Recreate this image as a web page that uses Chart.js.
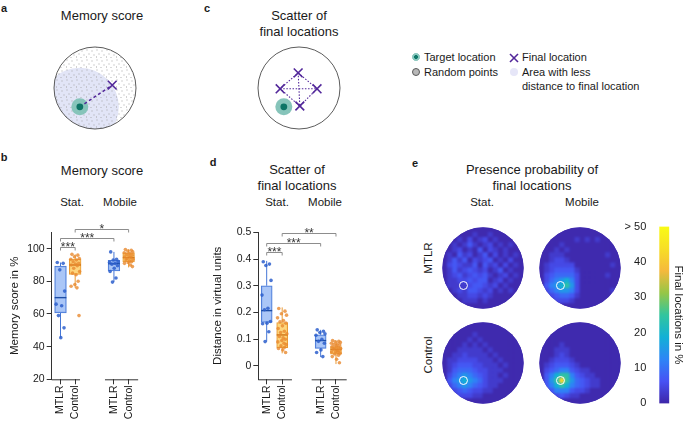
<!DOCTYPE html>
<html>
<head>
<meta charset="utf-8">
<script src="https://cdn.jsdelivr.net/npm/chart.js@4.4.1/dist/chart.umd.min.js"></script>
<style>
  body { margin: 0; width: 685px; height: 421px; background: #fff; position: relative; overflow: hidden;
         font-family: 'Liberation Sans', Arial, sans-serif; color: #1a1a1a; }
  canvas { position: absolute; }
  .t { position: absolute; transform: translate(-50%, -50%); white-space: nowrap; }
  .title { font-size: 13px; }
  .sub { font-size: 11.5px; }
  .letter { font-weight: bold; font-size: 11px; }
  .rot { transform: translate(-50%, -50%) rotate(-90deg); }
  .leg { position: absolute; font-size: 11px; white-space: nowrap; transform: translateY(-50%); }
  .ic { position: absolute; width: 8px; height: 8px; border-radius: 50%; transform: translate(-50%, -50%); box-sizing: border-box; }
</style>
</head>
<body>

<!-- panel letters -->
<div class="t letter" style="left:4px;top:8px">a</div>
<div class="t letter" style="left:207px;top:8px">c</div>
<div class="t letter" style="left:4px;top:157px">b</div>
<div class="t letter" style="left:213px;top:162px">d</div>
<div class="t letter" style="left:415px;top:163px">e</div>

<!-- titles -->
<div class="t title" style="left:102px;top:15px">Memory score</div>
<div class="t title" style="left:299px;top:15px">Scatter of</div>
<div class="t title" style="left:299px;top:31px">final locations</div>

<div class="t title" style="left:102px;top:170px">Memory score</div>
<div class="t sub" style="left:72px;top:202px">Stat.</div>
<div class="t sub" style="left:120px;top:202px">Mobile</div>

<div class="t title" style="left:297px;top:169px">Scatter of</div>
<div class="t title" style="left:297px;top:185px">final locations</div>
<div class="t sub" style="left:277px;top:202px">Stat.</div>
<div class="t sub" style="left:325px;top:202px">Mobile</div>

<div class="t title" style="left:532px;top:169px">Presence probability of</div>
<div class="t title" style="left:532px;top:185px">final locations</div>
<div class="t sub" style="left:482px;top:202px">Stat.</div>
<div class="t sub" style="left:582px;top:202px">Mobile</div>
<div class="t sub rot" style="left:428px;top:258px">MTLR</div>
<div class="t sub rot" style="left:428px;top:355px">Control</div>

<!-- legend of the schematics -->
<div class="ic" style="left:416px;top:57px;background:radial-gradient(circle, #0e7869 0 1.8px, #8cc8bf 2.2px 4px, transparent 4.2px)"></div>
<div class="ic" style="left:416px;top:72px;background:#b8b8b8;border:1px solid #5a5a5a"></div>
<svg style="position:absolute;left:508.5px;top:52.5px" width="10" height="10">
  <line x1="1" y1="1" x2="9" y2="9" stroke="#52279a" stroke-width="1.6"/>
  <line x1="9" y1="1" x2="1" y2="9" stroke="#52279a" stroke-width="1.6"/>
</svg>
<div class="ic" style="left:513.5px;top:72px;background:#e6e6f8"></div>
<div class="leg" style="left:424px;top:57px">Target location</div>
<div class="leg" style="left:424px;top:72px">Random points</div>
<div class="leg" style="left:522px;top:57px">Final location</div>
<div class="leg" style="left:522px;top:72px">Area with less</div>
<div class="leg" style="left:522px;top:86px">distance to final location</div>

<script>
// ---------- data ----------

const groups = ['MTLR', 'Control', 'MTLR', 'Control']

// b: memory score in %
const memTicks = [20, 40, 60, 80, 100]
const memMtlrStat = [91.5, 91, 87, 74, 66, 65, 59, 51.5, 45.5]
const memCtrlStat = [96.5, 96, 95, 94, 93.5, 93, 92, 91, 90.5, 90, 89.5, 88, 86, 85, 84, 80, 78, 77, 76, 59]
const memMtlrMob = [98, 93.5, 93, 92, 91.5, 91, 90.5, 89.5, 88, 86, 82, 79.5]
const memCtrlMob = [99.5, 99, 98.5, 98, 97.5, 97, 96.5, 96, 95.5, 95, 94.5, 94, 93.5, 93, 92.5, 92, 91.5, 91, 90, 89]
// [lower whisker, q1, median, q3, upper whisker]
const memBoxes = [
  [45.5, 60.7, 70, 89.3, 91.5],
  [76, 84.2, 90, 93.6, 96.5],
  [79.5, 86.3, 90.8, 92.8, 98],
  [88.5, 91.8, 94.5, 97.5, 99.6]
]
const memSig = [[0, 1, 100.9, '***'], [0, 2, 106.5, '***'], [1, 3, 112.3, '*']]

// d: distance in virtual units
const distTicks = [0, 0.1, 0.2, 0.3, 0.4, 0.5]
const distMtlrStat = [0.39, 0.381, 0.376, 0.32, 0.265, 0.216, 0.21, 0.166, 0.16, 0.158, 0.128, 0.091]
const distCtrlStat = [0.215, 0.205, 0.195, 0.19, 0.18, 0.17, 0.165, 0.16, 0.15, 0.14, 0.13, 0.125, 0.12, 0.11, 0.105, 0.1, 0.095, 0.09, 0.085, 0.08, 0.075, 0.07, 0.065, 0.06, 0.05]
const distMtlrMob = [0.135, 0.13, 0.125, 0.12, 0.115, 0.1, 0.092, 0.085, 0.06, 0.05, 0.035]
const distCtrlMob = [0.095, 0.092, 0.09, 0.088, 0.085, 0.082, 0.08, 0.078, 0.075, 0.072, 0.07, 0.067, 0.065, 0.062, 0.06, 0.058, 0.055, 0.052, 0.05, 0.047, 0.045, 0.04, 0.035, 0.025, 0.012]
const distBoxes = [
  [0.091, 0.163, 0.207, 0.300, 0.393],
  [0.047, 0.068, 0.116, 0.162, 0.219],
  [0.033, 0.066, 0.095, 0.116, 0.135],
  [0.007, 0.044, 0.062, 0.072, 0.095]
]
const distSig = [[0, 1, 0.427, '***'], [0, 2, 0.461, '***'], [1, 3, 0.496, '**']]

// e: presence probability, 16x16 cells per arena, one char per cell
const heatLevels = { '0': 0.5, '1': 3, '2': 5, '3': 7, '4': 9, '5': 12, '6': 15, '7': 19, '8': 24, '9': 30, 'a': 36, 'b': 42, 'c': 50 }
const heatMtlrStat = [
  '0000000000000000',
  '0000001001000000',
  '0001020120100000',
  '0010131012010100',
  '0012010302101000',
  '0103120130201010',
  '0131302123010200',
  '0232113031202010',
  '0131232120130100',
  '0123123231012010',
  '0112232330120100',
  '0111123321201000',
  '0012133212010100',
  '0001122121000000',
  '0000111010000000',
  '0000000000000000'
]
const heatMtlrMob = [
  '0000000000000000',
  '0000000000000000',
  '0000000101010000',
  '0000100000000000',
  '0001010000000000',
  '0011100000000100',
  '0012210000000000',
  '0122222000000010',
  '0123333100000000',
  '0234444200000100',
  '0245675200000000',
  '0356786200000000',
  '0245665200000010',
  '0123443100000000',
  '0012221000000000',
  '0000000000000000'
]
const heatCtrlStat = [
  '0000000000000000',
  '0000000000000000',
  '0000001000000000',
  '0000010100000000',
  '0000101010000000',
  '0001111101000000',
  '0011211110100000',
  '0112222111010000',
  '0123332211101000',
  '0134443221110000',
  '0245654321101000',
  '0356765421110000',
  '0245654321100000',
  '0123432211000000',
  '0012221100000000',
  '0000000000000000'
]
const heatCtrlMob = [
  '0000000000000000',
  '0000000000000000',
  '0000000000000000',
  '0000000000000000',
  '0000100000000000',
  '0001110000000000',
  '0001210000000000',
  '0012221000000000',
  '0123332100000000',
  '0234553211000000',
  '0357885321100000',
  '0368b86432110000',
  '0357875432110000',
  '0235553221000000',
  '0012321100000000',
  '0000000000000000'
]
const heatTarget = [-0.48, -0.43]
const cbTicks = [0, 10, 20, 30, 40, 50]

// a, c: schematic arenas (arena radius = 1)
const aTarget = [-0.37, -0.46]
const aFinal = [0.42, 0.07]
const cTarget = [-0.37, -0.46]
const cFinals = [[-0.02, 0.37], [-0.46, -0.02], [0.44, -0.02], [0.02, -0.44]]

// ---------- styles ----------

Chart.defaults.font.family = "'Liberation Sans', Arial, sans-serif"
Chart.defaults.color = '#1a1a1a'

const BLUE = { fill: 'rgba(155,188,246,0.85)', edge: '#4677d6', median: '#1d4ea6', dot: 'rgba(45,95,205,0.85)' }
const ORANGE = { fill: 'rgba(253,208,112,0.9)', edge: '#e99a35', median: '#cf7414', dot: 'rgba(232,138,48,0.8)' }
const groupColors = [BLUE, ORANGE, BLUE, ORANGE]
const PURPLE = '#52279a'
const jitter = [-0.22, 0.18, -0.05, 0.28, -0.3, 0.08, -0.14, 0.24, 0.02, -0.26, 0.14, -0.1, 0.3, -0.18, 0.06, 0.2, -0.02, -0.28, 0.12, 0.26, -0.08, 0.16, -0.24, 0.04, 0.22, -0.12]

const parula = [
  [0, [62, 38, 168]], [0.125, [71, 82, 244]], [0.25, [45, 133, 246]], [0.375, [18, 176, 214]],
  [0.5, [50, 197, 158]], [0.625, [150, 198, 70]], [0.75, [245, 185, 60]], [0.875, [247, 222, 38]], [1, [249, 251, 21]]
]
function parulaAt(t) {
  t = Math.max(0, Math.min(1, t))
  for (let i = 1; i < parula.length; i++) {
    if (t <= parula[i][0]) {
      const [t0, c0] = parula[i - 1], [t1, c1] = parula[i]
      const f = (t - t0) / (t1 - t0)
      return 'rgb(' + c0.map((c, k) => Math.round(c + (c1[k] - c) * f)).join(',') + ')'
    }
  }
  return 'rgb(249,251,21)'
}

function makeCanvas(left, top, w, h) {
  const c = document.createElement('canvas')
  c.width = w
  c.height = h
  c.style.left = left + 'px'
  c.style.top = top + 'px'
  c.style.width = w + 'px'
  c.style.height = h + 'px'
  document.body.appendChild(c)
  return c
}

// ---------- box plots (b, d) ----------

const boxExtras = {
  id: 'boxExtras',
  beforeDatasetsDraw(chart, args, o) {
    // whiskers behind the boxes
    const { ctx, scales: { x, y } } = chart
    ctx.save()
    ctx.lineWidth = 1
    o.boxes.forEach((b, i) => {
      const px = x.getPixelForValue(o.pos[i])
      ctx.strokeStyle = groupColors[i].edge
      ctx.beginPath()
      ctx.moveTo(px, y.getPixelForValue(b[0]))
      ctx.lineTo(px, y.getPixelForValue(b[1]))
      ctx.moveTo(px, y.getPixelForValue(b[3]))
      ctx.lineTo(px, y.getPixelForValue(b[4]))
      ctx.stroke()
    })
    ctx.restore()
  },
  afterDatasetDraw(chart, args, o) {
    if (args.meta.type !== 'bar') return
    const { ctx, scales: { x, y } } = chart
    ctx.save()
    ctx.lineWidth = 1.4
    o.boxes.forEach((b, i) => {
      const px = x.getPixelForValue(o.pos[i])
      const py = y.getPixelForValue(b[2])
      ctx.strokeStyle = groupColors[i].median
      ctx.beginPath()
      ctx.moveTo(px - o.bw / 2, py)
      ctx.lineTo(px + o.bw / 2, py)
      ctx.stroke()
    })
    ctx.restore()
  },
  afterDraw(chart, args, o) {
    const { ctx, chartArea, scales: { x, y } } = chart
    ctx.save()
    // broken x axis
    ctx.strokeStyle = '#333'
    ctx.lineWidth = 1
    o.segments.forEach(s => {
      ctx.beginPath()
      ctx.moveTo(x.getPixelForValue(s[0]), chartArea.bottom + 0.5)
      ctx.lineTo(x.getPixelForValue(s[1]), chartArea.bottom + 0.5)
      ctx.stroke()
    })
    // significance brackets
    ctx.strokeStyle = '#808080'
    ctx.lineWidth = 0.9
    ctx.fillStyle = '#333'
    ctx.font = "12px 'Liberation Sans', Arial, sans-serif"
    ctx.textAlign = 'center'
    o.sig.forEach(([i, j, v, label]) => {
      const x1 = x.getPixelForValue(o.pos[i])
      const x2 = x.getPixelForValue(o.pos[j])
      const py = Math.round(y.getPixelForValue(v)) + 0.5
      ctx.beginPath()
      ctx.moveTo(x1, py + 3)
      ctx.lineTo(x1, py)
      ctx.lineTo(x2, py)
      ctx.lineTo(x2, py + 3)
      ctx.stroke()
      ctx.fillText(label, (x1 + x2) / 2, py + 3.5)
    })
    ctx.restore()
  }
}

function boxChart(canvas, c) {
  const pointSets = c.series.map((vals, i) => ({
    type: 'scatter',
    data: vals.map((v, k) => ({ x: c.pos[i] + jitter[k % jitter.length], y: v })),
    backgroundColor: groupColors[i].dot,
    borderWidth: 0,
    pointRadius: 1.8,
    order: 0
  }))
  return new Chart(canvas, {
    type: 'scatter',
    data: {
      datasets: pointSets.concat([{
        type: 'bar',
        data: c.boxes.map((b, i) => ({ x: c.pos[i], y: [b[1], b[3]] })),
        backgroundColor: groupColors.map(g => g.fill),
        borderColor: groupColors.map(g => g.edge),
        borderWidth: 1,
        borderSkipped: false,
        barThickness: c.bw,
        order: 1
      }])
    },
    options: {
      responsive: false,
      animation: false,
      layout: { padding: { top: c.padTop, right: c.padRight, left: 0, bottom: 0 } },
      plugins: {
        legend: { display: false },
        tooltip: { enabled: false },
        boxExtras: { boxes: c.boxes, pos: c.pos, bw: c.bw, segments: c.segments, sig: c.sig }
      },
      scales: {
        x: {
          type: 'linear', min: c.xRange[0], max: c.xRange[1], offset: false,
          grid: { display: true, offset: false, drawOnChartArea: false, tickLength: 5, color: '#333', lineWidth: 1 },
          border: { display: false },
          afterBuildTicks: s => { s.ticks = c.pos.map(v => ({ value: v })) },
          ticks: { autoSkip: false, minRotation: 90, maxRotation: 90, padding: 1, font: { size: 10.5 }, color: '#1a1a1a',
                   callback: (v, i) => groups[i] },
          afterFit: s => { s.height = c.xHeight }
        },
        y: {
          min: c.yRange[0], max: c.yRange[1],
          grid: { drawOnChartArea: false, tickLength: 5, color: '#333', lineWidth: 1 },
          border: { display: true, color: '#333', width: 1 },
          afterBuildTicks: s => { s.ticks = c.yTicks.map(v => ({ value: v })) },
          ticks: { padding: 2, font: { size: 10.5 }, color: '#1a1a1a', callback: v => String(v) },
          title: { display: true, text: c.yTitle, font: { size: 11.5 }, color: '#1a1a1a', padding: { top: c.titlePad, bottom: 0 } },
          afterFit: s => { s.width = c.yWidth }
        }
      }
    },
    plugins: [boxExtras]
  })
}

boxChart(makeCanvas(0, 210, 150, 211), {
  series: [memMtlrStat, memCtrlStat, memMtlrMob, memCtrlMob],
  boxes: memBoxes, sig: memSig, yTicks: memTicks,
  pos: [1, 2, 4.64, 5.64], xRange: [0.4, 6.3], segments: [[0.4, 2.33], [4.03, 6.29]],
  yRange: [20, 110], yTitle: 'Memory score in %',
  bw: 11.7, padTop: 22.3, padRight: 11.7, xHeight: 41.7, yWidth: 51.7, titlePad: 8
})

boxChart(makeCanvas(205, 210, 150, 211), {
  series: [distMtlrStat, distCtrlStat, distMtlrMob, distCtrlMob],
  boxes: distBoxes, sig: distSig, yTicks: distTicks,
  pos: [1, 2, 4.48, 5.47], xRange: [0.46, 6.16], segments: [[0.46, 2.63], [3.9, 6.16]],
  yRange: [-0.05, 0.5], yTitle: 'Distance in virtual units',
  bw: 11, padTop: 22.3, padRight: 8.3, xHeight: 41.7, yWidth: 53.3, titlePad: 5.6
})

// ---------- heat maps (e) ----------

const heatBlur = {
  id: 'heatBlur',
  afterDatasetDraw(chart, args) {
    if (args.index !== 0) return
    const { ctx, canvas, scales: { x, y } } = chart
    const r = chart.currentDevicePixelRatio
    const cx = x.getPixelForValue(0) * r
    const cy = y.getPixelForValue(0) * r
    const rad = (x.getPixelForValue(1) - x.getPixelForValue(0)) * r
    const tmp = document.createElement('canvas')
    tmp.width = canvas.width
    tmp.height = canvas.height
    tmp.getContext('2d').drawImage(canvas, 0, 0)
    ctx.save()
    ctx.setTransform(1, 0, 0, 1, 0, 0)
    ctx.clearRect(0, 0, canvas.width, canvas.height)
    ctx.beginPath()
    ctx.arc(cx, cy, rad, 0, Math.PI * 2)
    ctx.clip()
    ctx.fillStyle = parulaAt(0.01)
    ctx.fillRect(0, 0, canvas.width, canvas.height)
    ctx.filter = 'blur(' + (1.2 * r) + 'px)'
    ctx.drawImage(tmp, 0, 0)
    ctx.restore()
  }
}

function heatChart(canvas, rows) {
  const n = rows.length
  const cells = []
  rows.forEach((row, ri) => {
    row.split('').forEach((ch, ci) => {
      cells.push({ x: -1 + (ci + 0.5) * 2 / n, y: 1 - (ri + 0.5) * 2 / n, v: heatLevels[ch] })
    })
  })
  return new Chart(canvas, {
    type: 'scatter',
    data: {
      datasets: [{
        data: cells,
        pointStyle: 'rect',
        borderWidth: 0,
        backgroundColor: ctx => parulaAt((ctx.raw ? ctx.raw.v : 0) / 50),
        pointRadius: ctx => {
          const s = ctx.chart.scales.x
          const cell = Math.abs(s.getPixelForValue(2 / n) - s.getPixelForValue(0))
          return (cell + 0.8) / Math.SQRT2
        },
        order: 1
      }, {
        data: [{ x: heatTarget[0], y: heatTarget[1] }],
        pointRadius: 4,
        backgroundColor: 'rgba(0,0,0,0)',
        borderColor: '#fff',
        borderWidth: 1,
        order: 0
      }]
    },
    options: {
      responsive: false,
      animation: false,
      layout: { padding: 9.3 },
      plugins: { legend: { display: false }, tooltip: { enabled: false } },
      scales: {
        x: { display: false, min: -1, max: 1 },
        y: { display: false, min: -1, max: 1 }
      }
    },
    plugins: [heatBlur]
  })
}

heatChart(makeCanvas(433, 217.5, 100, 100), heatMtlrStat)
heatChart(makeCanvas(530, 217.5, 100, 100), heatMtlrMob)
heatChart(makeCanvas(433, 312.5, 100, 100), heatCtrlStat)
heatChart(makeCanvas(530, 312.5, 100, 100), heatCtrlMob)

// colour bar
new Chart(makeCanvas(615, 215, 70, 200), {
  type: 'bar',
  data: {
    labels: [''],
    datasets: [{
      data: [[0, 50]],
      borderWidth: 0,
      barPercentage: 1,
      categoryPercentage: 1,
      backgroundColor: ctx => {
        const area = ctx.chart.chartArea
        if (!area) return '#3e26a8'
        const g = ctx.chart.ctx.createLinearGradient(0, area.bottom, 0, area.top)
        parula.forEach(([t, c]) => g.addColorStop(t, 'rgb(' + c.join(',') + ')'))
        return g
      }
    }]
  },
  options: {
    responsive: false,
    animation: false,
    layout: { padding: { top: 10, bottom: 7.3, left: 0, right: 0 } },
    plugins: { legend: { display: false }, tooltip: { enabled: false } },
    scales: {
      x: { display: false },
      y: {
        min: 0, max: 50, position: 'left',
        grid: { display: false }, border: { display: false },
        afterBuildTicks: s => { s.ticks = cbTicks.map(v => ({ value: v })) },
        ticks: { padding: 5, font: { size: 11 }, color: '#1a1a1a', callback: v => (v === 50 ? '> 50' : String(v)) },
        afterFit: s => { s.width = 44.3 }
      },
      y2: {
        position: 'right',
        grid: { display: false }, border: { display: false },
        ticks: { display: false },
        title: { display: true, text: 'Final locations in %', font: { size: 11.5 }, color: '#1a1a1a', padding: 0 },
        afterFit: s => { s.width = 15.7 }
      }
    }
  }
})

// ---------- schematics (a, c) ----------

const dotTile = [[1.5, 1.5], [6.5, 2.5], [3.5, 5.5], [8.5, 6.5], [1, 8.5], [5.5, 9.2]]

function dotPattern(ctx) {
  const t = document.createElement('canvas')
  t.width = 10
  t.height = 10
  const tc = t.getContext('2d')
  tc.fillStyle = '#a3a3a3'
  dotTile.forEach(([x, y]) => tc.fillRect(x, y, 1, 1))
  return ctx.createPattern(t, 'repeat')
}

const arena = {
  id: 'arena',
  beforeDatasetsDraw(chart, args, o) {
    const { ctx, scales: { x, y } } = chart
    const cx = x.getPixelForValue(0), cy = y.getPixelForValue(0)
    const R = x.getPixelForValue(1) - cx
    ctx.save()
    ctx.beginPath()
    ctx.arc(cx, cy, R, 0, Math.PI * 2)
    ctx.clip()
    if (o.shade) {
      const tx = x.getPixelForValue(o.shade[0][0]), ty = y.getPixelForValue(o.shade[0][1])
      const fx = x.getPixelForValue(o.shade[1][0]), fy = y.getPixelForValue(o.shade[1][1])
      ctx.fillStyle = '#e2e5f7'
      ctx.beginPath()
      ctx.arc(tx, ty, Math.hypot(fx - tx, fy - ty), 0, Math.PI * 2)
      ctx.fill()
    }
    if (o.dots) {
      ctx.fillStyle = dotPattern(ctx)
      ctx.fillRect(cx - R, cy - R, 2 * R, 2 * R)
    }
    ctx.restore()
    ctx.save()
    ctx.strokeStyle = '#4a4a4a'
    ctx.lineWidth = 0.9
    ctx.beginPath()
    ctx.arc(cx, cy, R, 0, Math.PI * 2)
    ctx.stroke()
    ctx.restore()
  }
}

function schematic(canvas, target, finals, lines, dash, arenaOpts) {
  const pt = p => ({ x: p[0], y: p[1] })
  const lineSets = lines.map(path => ({
    data: path.map(p => pt(p)),
    showLine: true,
    borderColor: PURPLE,
    borderWidth: dash.w,
    borderDash: dash.d,
    pointRadius: 0,
    order: 2
  }))
  return new Chart(canvas, {
    type: 'scatter',
    data: {
      datasets: [
        { data: [pt(target)], pointRadius: 8.5, backgroundColor: '#86c4ba', borderWidth: 0, order: 3 },
        ...lineSets,
        { data: [pt(target)], pointRadius: 3.4, backgroundColor: '#0d7466', borderWidth: 0, order: 1 },
        { data: finals.map(pt), pointStyle: 'crossRot', pointRadius: 6.2, borderColor: PURPLE, borderWidth: 1.6, order: 0 }
      ]
    },
    options: {
      responsive: false,
      animation: false,
      layout: { padding: 9 },
      plugins: { legend: { display: false }, tooltip: { enabled: false }, arena: arenaOpts },
      scales: {
        x: { display: false, min: -1, max: 1 },
        y: { display: false, min: -1, max: 1 }
      }
    },
    plugins: [arena]
  })
}

schematic(makeCanvas(44.5, 38, 100, 100), aTarget, [aFinal], [[aTarget, aFinal]],
  { w: 1.5, d: [3, 2.5] }, { shade: [aTarget, aFinal], dots: true })

// every pair of final locations joined: one open path plus the remaining chord
const f = cFinals
schematic(makeCanvas(249, 38, 100, 100), cTarget, cFinals,
  [[f[0], f[2], f[3], f[1], f[0], f[3]], [f[1], f[2]]],
  { w: 1.1, d: [1.5, 1.6] }, { shade: null, dots: false })
</script>
</body>
</html>
